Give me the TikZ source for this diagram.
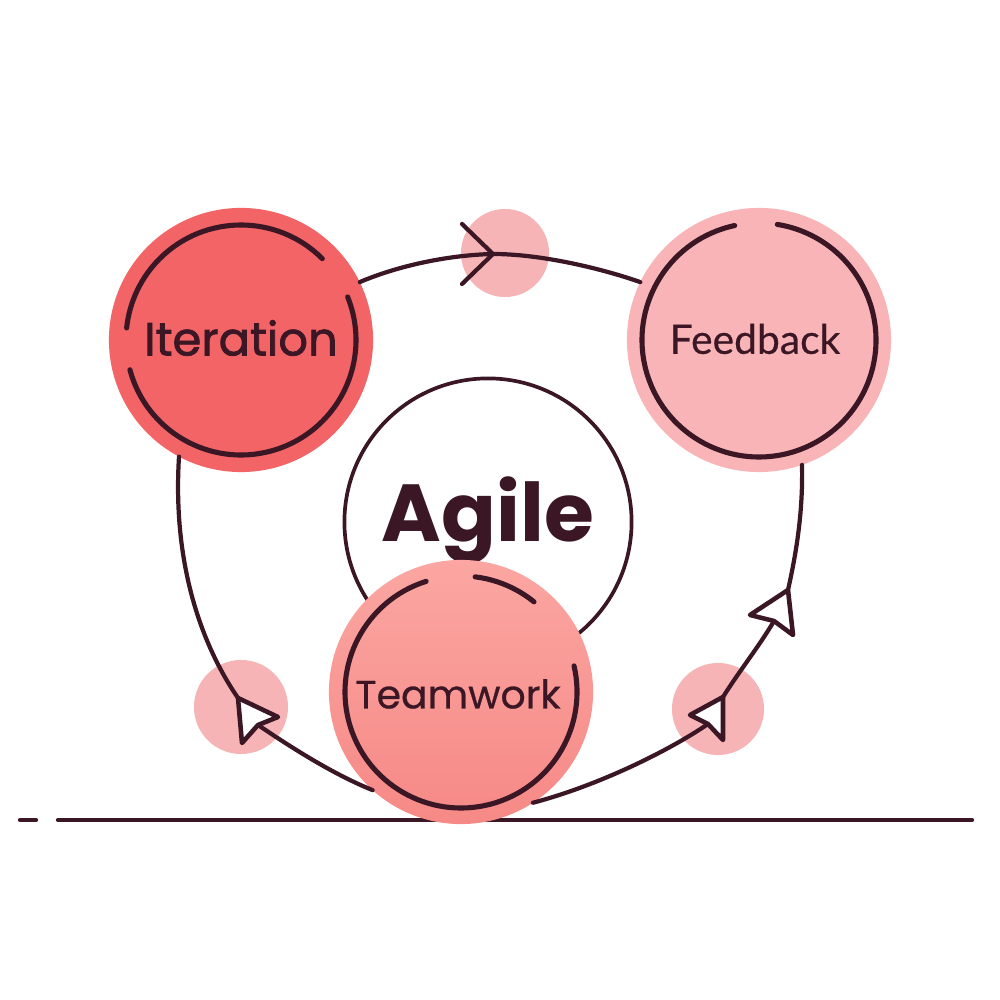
\documentclass[tikz,border=0pt]{standalone}
\usepackage{fontspec}
\newfontfamily\pop{Poppins}
\newfontfamily\popm[FakeBold=1.6]{Poppins}
\newfontfamily\popr[FakeBold=0.6]{Poppins}
\newfontfamily\lato[FakeBold=0.5]{Lato}
\definecolor{ink}{HTML}{3B1726}
\definecolor{iterfill}{HTML}{F26466}
\definecolor{feedfill}{HTML}{F8B4B6}
\definecolor{teamtop}{HTML}{FBA6A2}
\definecolor{teambot}{HTML}{F68986}
\definecolor{dotfill}{HTML}{F7B4B6}
\tikzset{
  bigcirc/.style={circle, minimum size=2.64cm, inner sep=0pt, outer sep=0pt},
  dotc/.style={circle, fill=dotfill, inner sep=0pt, outer sep=0pt},
  ring/.style={draw=ink, line width=1.45pt, line cap=round},
  flow/.style={draw=ink, line width=1.2pt, line cap=round},
  head/.style={draw=ink, fill=white, line width=1.3pt, line join=round},
  lbl/.style={text=ink, inner sep=0pt}
}
\begin{document}
\begin{tikzpicture}[x=0.01cm, y=0.01cm]
\useasboundingbox (0,0) rectangle (1000,1000);
\fill[white] (0,0) rectangle (1000,1000);
% decorative dots
\node[dotc, minimum size=0.88cm] (dtop) at (505,747) {};
\node[dotc, minimum size=0.94cm] (dleft) at (241,293) {};
\node[dotc, minimum size=0.92cm] (dright) at (718,291) {};
% ground
\draw[ink, line width=1.2pt, line cap=round] (58,180) coordinate (g1) -- (972,180) coordinate (g2);
\draw[ink, line width=1.2pt, line cap=round] (20,180) coordinate (g3) -- (36,180) coordinate (g4);
% central circle
\node[circle, minimum size=2.87cm, inner sep=0pt, draw=ink, fill=white, line width=1.05pt] (agile) at (488,478) {};
\node[lbl, font=\pop\bfseries\fontsize{23}{26}\selectfont] (agiletxt) at (488,480) {Agile};
% main circles
\node[bigcirc, fill=iterfill] (iter) at (241,660) {};
\node[bigcirc, fill=feedfill] (feed) at (759,660) {};
\node[bigcirc, top color=teamtop, bottom color=teambot] (team) at (461,308) {};
% inner rings
\draw[ring] (iter.center) ++(45:115) arc[start angle=45, end angle=174, radius=115];
\draw[ring] (iter.center) ++(195:115) arc[start angle=195, end angle=382, radius=115];
\draw[ring] (feed.center) ++(102:117) arc[start angle=102, end angle=441, radius=117];
\draw[ring] (team.center) ++(51:116) arc[start angle=51, end angle=83, radius=116];
\draw[ring] (team.center) ++(107.5:116) arc[start angle=107.5, end angle=373, radius=116];
% labels
\node[lbl, font=\popm\fontsize{13.2}{16}\selectfont] (itertxt) at (241,662) {Iteration};
\node[lbl, font=\lato\fontsize{11.6}{14}\selectfont] (feedtxt) at (755,661) {Feedback};
\node[lbl, font=\popr\fontsize{11.2}{14}\selectfont] (teamtxt) at (458,306) {Teamwork};
% flow coordinates
\coordinate (vtop) at (493,746);
\coordinate (t1) at (238,302);
\coordinate (n1) at (258,275);
\coordinate (t2) at (723,303);
\coordinate (n2) at (708,276);
\coordinate (t3) at (788,410);
\coordinate (n3) at (774,379);
% connectors
\draw[flow] (iter.26) .. controls (400,735) and (450,745) .. (vtop)
            .. controls (540,746) and (600,732) .. (feed.154);
\draw[flow] (iter.242) .. controls (172,430) and (205,350) .. (t1);
\draw[flow] (n1) .. controls (295,250) and (335,225) .. (team.228);
\draw[flow] (team.-57) .. controls (600,215) and (670,250) .. (n2);
\draw[flow] (t2) .. controls (740,330) and (760,355) .. (n3);
\draw[flow] (t3) .. controls (797,450) and (803,490) .. (feed.-71);
% arrowheads
\draw[flow, line join=round] (462,776) -- (vtop) -- (462,716);
\draw[head] (t1) -- (278,283) -- (n1) -- (242,257) -- cycle;
\draw[head] (t2) -- (690,285) -- (n2) -- (723,260) -- cycle;
\draw[head] (t3) -- (750,385) -- (n3) -- (793,365) -- cycle;
\end{tikzpicture}
\end{document}
